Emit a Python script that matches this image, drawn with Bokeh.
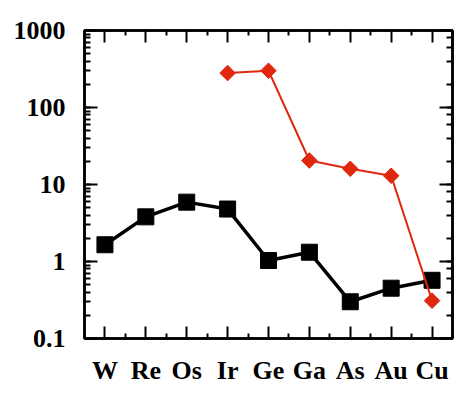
import math
from bokeh.plotting import figure
from bokeh.models import FixedTicker, LinearAxis, LogAxis, ColumnDataSource
from bokeh.embed import file_html
from bokeh.resources import INLINE

elements = ["W", "Re", "Os", "Ir", "Ge", "Ga", "As", "Au", "Cu"]
black_vals = [1.65, 3.8, 5.9, 4.8, 1.03, 1.32, 0.30, 0.45, 0.57]
red_elements = ["Ir", "Ge", "Ga", "As", "Au", "Cu"]
red_vals = [280, 300, 20.5, 16, 13, 0.31]
y_ticks = [0.1, 1, 10, 100, 1000]
y_tick_labels = ["0.1", "1", "10", "100", "1000"]

xpos = list(range(1, len(elements) + 1))
red_x = [elements.index(e) + 1 for e in red_elements]

p = figure(width=470, height=392, y_axis_type="log",
           x_range=(0.5, len(elements) + 0.5), y_range=(0.1, 1000),
           output_backend="svg", toolbar_location=None,
           min_border_left=84, min_border_right=18,
           min_border_top=30, min_border_bottom=54)
p.xgrid.visible = False
p.ygrid.visible = False
p.outline_line_color = "black"
p.outline_line_width = 2.5
p.background_fill_color = "white"
p.border_fill_color = "white"

xt = FixedTicker(ticks=xpos, minor_ticks=[x - 0.5 for x in xpos] + [len(xpos) + 0.5])
FONT = "Liberation Serif"

def style_x(ax, labels):
    ax.ticker = xt
    ax.axis_line_width = 2.5
    ax.major_tick_in = 12
    ax.major_tick_out = 0
    ax.minor_tick_in = 5
    ax.minor_tick_out = 0
    ax.major_tick_line_width = 2
    ax.minor_tick_line_width = 2
    if labels:
        ax.major_label_overrides = {x: e for x, e in zip(xpos, elements)}
        ax.major_label_text_font = FONT
        ax.major_label_text_font_style = "bold"
        ax.major_label_text_font_size = "26px"
        ax.major_label_text_color = "black"
        ax.major_label_standoff = 17
    else:
        ax.major_label_text_color = None

def style_y(ax, labels):
    ax.ticker.desired_num_ticks = 5
    ax.axis_line_width = 2.5
    ax.major_tick_in = 13
    ax.major_tick_out = 0
    ax.minor_tick_in = 6
    ax.minor_tick_out = 0
    ax.major_tick_line_width = 2
    ax.minor_tick_line_width = 2
    if labels:
        ax.major_label_overrides = {v: s for v, s in zip(y_ticks, y_tick_labels)}
        ax.major_label_text_font = FONT
        ax.major_label_text_font_style = "bold"
        ax.major_label_text_font_size = "26px"
        ax.major_label_text_color = "black"
        ax.major_label_standoff = 19
    else:
        ax.major_label_text_color = None

style_x(p.xaxis[0], True)
style_y(p.yaxis[0], True)

top = LinearAxis()
style_x(top, False)
p.add_layout(top, "above")
right = LogAxis()
style_y(right, False)
p.add_layout(right, "right")

bsrc = ColumnDataSource(dict(x=xpos, y=black_vals))
rsrc = ColumnDataSource(dict(x=red_x, y=red_vals))

p.line("x", "y", source=bsrc, line_color="black", line_width=3.5)
p.scatter("x", "y", source=bsrc, marker="square", size=16, fill_color="black", line_color="black")
p.line("x", "y", source=rsrc, line_color="#e0280e", line_width=2)
p.scatter("x", "y", source=rsrc, marker="square", angle=math.pi / 4, size=11,
          fill_color="#e0280e", line_color="#e0280e")

open("out.html", "w").write(file_html(p, INLINE))
